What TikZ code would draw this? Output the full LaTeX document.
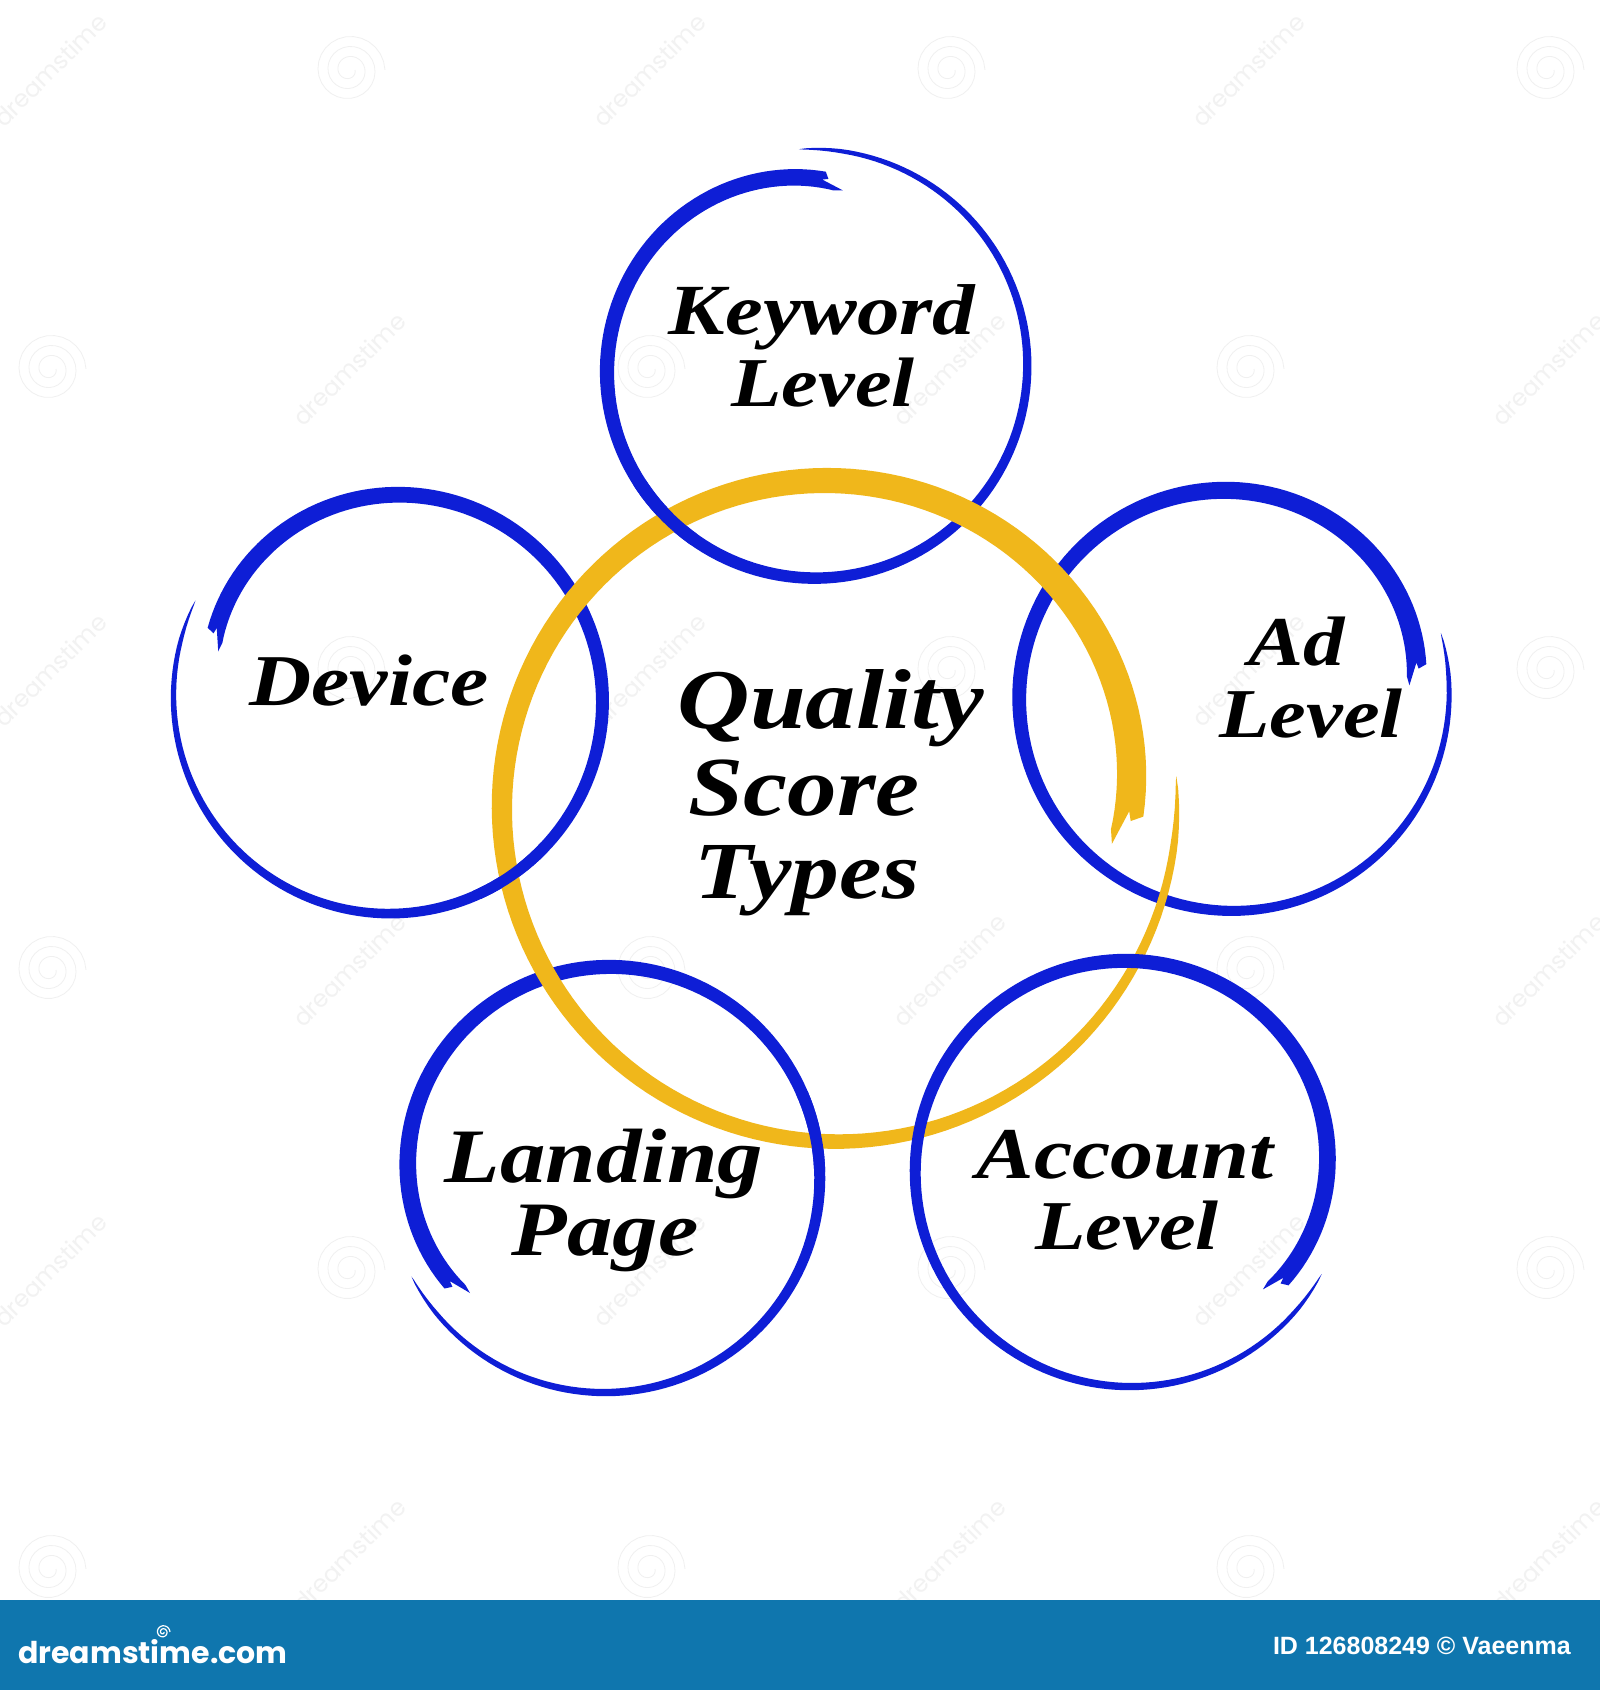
\documentclass[tikz,border=0pt]{standalone}
\usepackage{fontspec}
\newfontfamily\handfont[FakeStretch=1.18]{Liberation Serif}
\newfontfamily\logofont{Poppins}
\setsansfont{Liberation Sans}
\definecolor{ringblue}{RGB}{14,30,214}
\definecolor{ringgold}{RGB}{240,183,27}
\definecolor{bandblue}{RGB}{15,118,174}
\tikzset{
    declare function={
        ringr(\p)=1+.035*(1-\p)^4-.125*\p^6;
        ringw(\p)=(\rwa+(\rwb-\rwa)*\p^.7)*min(1,sqrt(\p/.03));
        ringx(\p,\q)=\rcx+(\rR*ringr(\p)+\q)*cos(\ra+\rs*\p);
        ringy(\p,\q)=\rcy-(\rR*ringr(\p)+\q)*sin(\ra+\rs*\p);
    },
    hand/.style={font=\handfont\bfseries\itshape\fontsize{#1}{80}\selectfont, text=black, anchor=base, inner sep=0pt},
    hand/.default=70,
    wmark/.style={draw=black!6, line width=.8pt},
    wtext/.style={text=black!5, font=\logofont\fontsize{24}{24}\selectfont, rotate=45, inner sep=0pt},
}
\def\Ring at (#1, #2) radius (#3) from (#4) sweep (#5) width (#6, #7) #8;{
    \def\rcx{#1}\def\rcy{#2}\def\rR{#3}\def\ra{#4}\def\rs{#5}\def\rwa{#6}\def\rwb{#7}
    \fill[#8] plot[domain=0:.985, samples=170, variable=\t] ({ringx(\t,ringw(\t)/2)},{ringy(\t,ringw(\t)/2)})
        -- ({ringx(.985,.1*#7)},{ringy(.985,.1*#7)})
        -- ({ringx(.98,0)},{ringy(.98,0)})
        -- ({ringx(.998,-.35*#7)},{ringy(.998,-.35*#7)})
        -- ({ringx(.99,-.5*#7)},{ringy(.99,-.5*#7)})
        -- plot[domain=.985:0, samples=170, variable=\t] ({ringx(\t,-ringw(\t)/2)},{ringy(\t,-ringw(\t)/2)})
        -- cycle;
}
\def\KeywordRing{\Ring at (814, 367) radius (211) from (94) sweep (-374) width (3, 17) ringblue;}
\def\DeviceRing{\Ring at (391, 700) radius (212) from (153) sweep (372) width (3, 18) ringblue;}
\def\AdRing{\Ring at (1231, 697) radius (212) from (17) sweep (-374) width (3, 20) ringblue;}
\def\AccountRing{\Ring at (1128, 1171) radius (212) from (-28) sweep (-374) width (3, 18) ringblue;}
\def\LandingRing{\Ring at (607, 1177) radius (212) from (207) sweep (374) width (3, 18) ringblue;}

\begin{document}
\begin{tikzpicture}[x=1pt, y=-1pt]
    \useasboundingbox (0, 0) rectangle (1600, 1690);
    \fill[white] (0, 0) rectangle (1600, 1600);

    % faint stamps
    \foreach \sx/\sy in {349/70, 949/70, 1548/70, 50/369, 649/369, 1248/369, 349/670, 949/670, 1548/670,
                         50/970, 649/970, 1248/970, 349/1270, 949/1270, 1548/1270, 50/1569, 649/1569, 1248/1569}
        \draw[wmark] plot[domain=0:3, samples=80, variable=\t] ({\sx+(6+10*\t)*cos(360*\t)},{\sy+(6+10*\t)*sin(360*\t)});
    \foreach \sx/\sy in {50/70, 649/70, 1248/70, 349/369, 949/369, 1548/369, 50/670, 649/670, 1248/670,
                         349/970, 949/970, 1548/970, 50/1270, 649/1270, 1248/1270, 349/1555, 949/1555, 1548/1555}
        \node[wtext] at (\sx, \sy) {dreamstime};

    \DeviceRing
    \LandingRing
    \KeywordRing
    \AdRing
    \Ring at (834, 806) radius (332) from (5) sweep (-373.5) width (5, 30) ringgold; % centre
    \AccountRing
    % blue back on top of the gold
    \begin{scope} \clip (657, 520) circle (42); \KeywordRing \end{scope}
    \begin{scope} \clip (508, 867) circle (42); \DeviceRing \end{scope}
    \begin{scope} \clip (810, 1133) circle (42); \LandingRing \end{scope}

    \node[hand=72] (keyword) at (822, 334) {Keyword};
    \node[hand] (keywordlevel) at (823, 406) {Level};
    \node[hand=73] (device) at (369, 705) {Device};
    \node[hand] (ad) at (1297, 665) {Ad};
    \node[hand] (adlevel) at (1311, 737) {Level};
    \node[hand=85] (quality) at (831, 728) {Quality};
    \node[hand=84] (score) at (804, 815) {Score};
    \node[hand=81] (types) at (807, 898) {Types};
    \node[hand=77] (landing) at (604, 1182) {Landing};
    \node[hand=77] (page) at (605, 1255) {Page};
    \node[hand=73] (account) at (1125, 1178) {Account};
    \node[hand] (accountlevel) at (1127, 1249) {Level};

    \fill[bandblue] (0, 1600) rectangle (1600, 1690);
    \node[anchor=base west, inner sep=0pt, text=white, font=\logofont\bfseries\fontsize{30}{30}\selectfont] (logo) at (18, 1663) {dreamstime.com};
    \draw[white, line width=1.2pt] plot[domain=0:2, samples=40, variable=\t] ({163+(1+3*\t)*cos(360*\t)},{1632+(1+3*\t)*sin(360*\t)});
    \node[anchor=base east, inner sep=0pt, text=white, font=\sffamily\bfseries\fontsize{25}{25}\selectfont] (idtag) at (1571, 1654) {ID 126808249 © Vaeenma};
\end{tikzpicture}
\end{document}
